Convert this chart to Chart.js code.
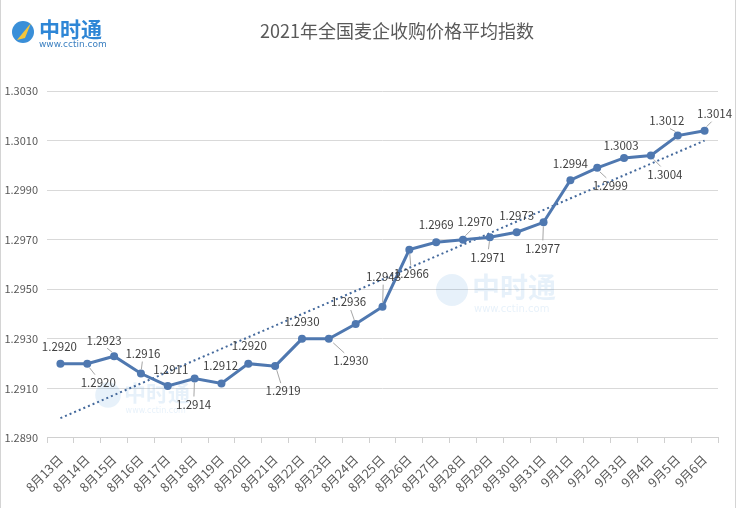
<!DOCTYPE html>
<html>
<head>
<meta charset="utf-8">
<script src="https://cdn.jsdelivr.net/npm/chart.js@4.4.1/dist/chart.umd.min.js"></script>
<style>
  html, body { margin: 0; padding: 0; background: #fff; }
  #wrap { position: relative; width: 738px; height: 508px; }
</style>
</head>
<body>
<div id="wrap"><canvas id="c" width="738" height="508"></canvas></div>
<script>
// dữ liệu
const chartTitle = '2021年全国麦企收购价格平均指数';
const categories = ['8月13日','8月14日','8月15日','8月16日','8月17日','8月18日','8月19日','8月20日','8月21日','8月22日','8月23日','8月24日','8月25日','8月26日','8月27日','8月28日','8月29日','8月30日','8月31日','9月1日','9月2日','9月3日','9月4日','9月5日','9月6日'];
const priceIndex = [1.2920,1.2920,1.2923,1.2916,1.2911,1.2914,1.2912,1.2920,1.2919,1.2930,1.2930,1.2936,1.2943,1.2966,1.2969,1.2970,1.2971,1.2973,1.2977,1.2994,1.2999,1.3003,1.3004,1.3012,1.3014];
const trendStart = 1.2898;
const trendEnd = 1.3010;
const yTicks = [1.2890,1.2910,1.2930,1.2950,1.2970,1.2990,1.3010,1.3030];

// vị trí nhãn (dx, dy) so với điểm
const labelOffsets = [[-1,-17],[11,19],[-10,-16],[2,-20],[3,-16],[-1,26],[-1,-18],[1,-18],[8,25],[0,-17],[22,22],[-7,-22],[1,-30],[2,24],[0,-18],[12,-18],[-2,20],[0,-17],[-1,26],[0,-17],[13,18],[-3,-12],[14,19],[-11,-15],[10,-17]];

const trendData = categories.map((c, i) => i === 0 ? trendStart : (i === categories.length - 1 ? trendEnd : null));

const FONT = '"Noto Sans CJK SC", "Noto Sans", sans-serif';

const decorPlugin = {
    id: 'decor',
    beforeDraw(chart) {
        const ctx = chart.ctx;
        ctx.save();
        ctx.fillStyle = '#fff';
        ctx.fillRect(0, 0, chart.width, chart.height);
        // viền trái/phải
        ctx.fillStyle = '#d4d4d4';
        ctx.fillRect(0, 0, 1, chart.height);
        ctx.fillRect(735, 0, 1, chart.height);
        // logo
        ctx.beginPath();
        ctx.arc(23, 32, 11, 0, Math.PI * 2);
        ctx.fillStyle = '#3a8fd8';
        ctx.fill();
        ctx.beginPath();
        ctx.moveTo(17, 40); ctx.lineTo(31, 23); ctx.lineTo(25, 38); ctx.closePath();
        ctx.fillStyle = '#f5c53a';
        ctx.fill();
        ctx.fillStyle = '#2e86d6';
        ctx.font = 'bold 21px ' + FONT;
        ctx.textBaseline = 'alphabetic';
        ctx.fillText('中时通', 39, 37);
        ctx.font = '9px "DejaVu Sans", sans-serif';
        ctx.fillStyle = '#3a7fc0';
        ctx.fillText('www.cctin.com', 39, 47);
        // tiêu đề
        ctx.fillStyle = '#595959';
        ctx.font = '18px ' + FONT;
        ctx.textAlign = 'center';
        ctx.textBaseline = 'middle';
        ctx.fillText(chartTitle, 397, 31);
        ctx.restore();
    },
    beforeDatasetsDraw(chart) {
        // watermark mờ
        const ctx = chart.ctx;
        ctx.save();
        ctx.globalAlpha = 0.12;
        [[108, 395, 0.8], [452, 290, 1]].forEach(([x, y, s]) => {
            ctx.beginPath();
            ctx.arc(x, y, 16 * s, 0, Math.PI * 2);
            ctx.fillStyle = '#3a8fd8';
            ctx.fill();
            ctx.font = 'bold ' + Math.round(28 * s) + 'px ' + FONT;
            ctx.fillText('中时通', x + 20 * s, y + 8 * s);
            ctx.font = Math.round(10 * s) + 'px "DejaVu Sans", sans-serif';
            ctx.fillText('www.cctin.com', x + 22 * s, y + 22 * s);
        });
        ctx.restore();
    }
};

const labelPlugin = {
    id: 'pointLabels',
    afterDatasetsDraw(chart) {
        const ctx = chart.ctx;
        const meta = chart.getDatasetMeta(0);
        ctx.save();
        ctx.font = '11.5px ' + FONT;
        ctx.textAlign = 'center';
        ctx.textBaseline = 'middle';
        meta.data.forEach((pt, i) => {
            const [dx, dy] = labelOffsets[i];
            const lx = pt.x + dx, ly = pt.y + dy;
            const dist = Math.hypot(dx, dy);
            if (dist > 20 || Math.abs(dx) > 9) {
                ctx.strokeStyle = '#a6a6a6';
                ctx.lineWidth = 1;
                const s = Math.sign(dy);
                ctx.beginPath();
                ctx.moveTo(pt.x + dx * 0.2, pt.y + s * 4);
                ctx.lineTo(pt.x + dx * 0.7, ly - s * 8);
                ctx.stroke();
            }
            ctx.fillStyle = '#404040';
            ctx.fillText(priceIndex[i].toFixed(4), lx, ly);
        });
        ctx.restore();
    }
};

new Chart(document.getElementById('c'), {
    type: 'line',
    data: {
        labels: categories,
        datasets: [{
            data: priceIndex,
            borderColor: '#4f78b0',
            backgroundColor: '#4f78b0',
            borderWidth: 3,
            pointRadius: 4,
            pointBorderWidth: 0,
            tension: 0,
            order: 1
        }, {
            data: trendData,
            spanGaps: true,
            borderColor: '#44699c',
            borderWidth: 2,
            borderDash: [2, 3],
            pointRadius: 0,
            order: 2
        }]
    },
    options: {
        responsive: false,
        animation: false,
        layout: { padding: { left: 0, right: 20, top: 91, bottom: 4 } },
        plugins: {
            legend: { display: false },
            tooltip: { enabled: false },
            title: { display: false }
        },
        scales: {
            x: {
                offset: true,
                grid: { display: true, drawOnChartArea: false, drawTicks: true, tickLength: 5, color: '#d0d0d0', offset: true },
                border: { color: '#d0d0d0' },
                ticks: {
                    color: '#595959',
                    font: { family: FONT, size: 12.5 },
                    minRotation: 45, maxRotation: 45,
                    autoSkip: false,
                    padding: 9
                }
            },
            y: {
                min: 1.2890,
                max: 1.3030,
                afterBuildTicks(scale) { scale.ticks = yTicks.map(v => ({ value: v })); },
                afterFit(scale) { scale.width = 47; },
                grid: { color: '#d9d9d9', drawTicks: false },
                border: { display: false },
                ticks: {
                    color: '#595959',
                    font: { family: FONT, size: 11 },
                    padding: 9,
                    callback: v => v.toFixed(4)
                }
            }
        }
    },
    plugins: [decorPlugin, labelPlugin]
});
</script>
</body>
</html>
